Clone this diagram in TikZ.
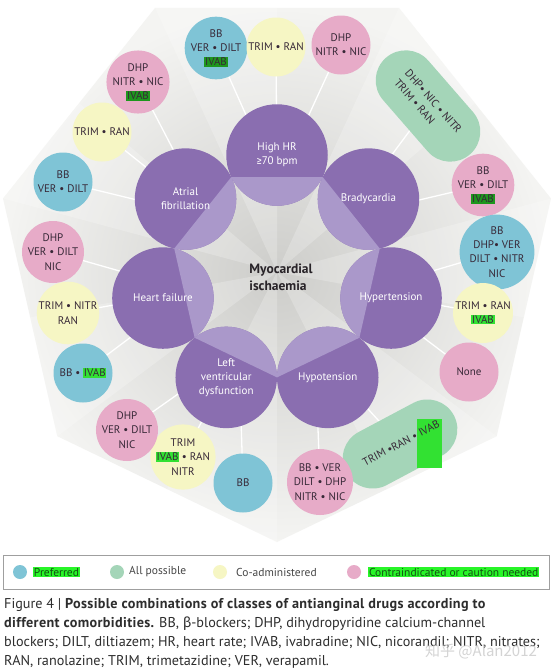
\documentclass[tikz,border=0pt]{standalone}
\usepackage{fontspec}
\setmainfont{PT Sans}
\newfontfamily\altf{Fira Sans}
\newfontfamily\capb[LetterSpace=2.5]{PT Sans}
\newfontfamily\cjk{Noto Sans CJK SC}
\usetikzlibrary{calc}
\pgfdeclarelayer{bg}
\pgfsetlayers{bg,main}
\definecolor{purpleC}{RGB}{138,110,176}
\definecolor{lightP}{RGB}{170,152,202}
\definecolor{blueC}{RGB}{127,196,214}
\definecolor{yellowC}{RGB}{246,246,196}
\definecolor{pinkC}{RGB}{231,171,200}
\definecolor{greenC}{RGB}{164,213,184}
\definecolor{satT}{RGB}{55,40,55}
\definecolor{ivD}{RGB}{30,150,30}
\definecolor{ivL}{RGB}{50,225,50}
\definecolor{hlG}{RGB}{40,245,40}
\definecolor{hlT}{RGB}{20,80,20}
\definecolor{bgIn}{RGB}{205,205,202}
\definecolor{bgOut}{RGB}{244,244,242}
\definecolor{legT}{RGB}{70,70,70}
\definecolor{capT}{RGB}{45,45,45}
\definecolor{miT}{RGB}{40,35,40}
\newcommand\ivabD{{\setlength{\fboxsep}{0.6pt}\colorbox{ivD}{IVAB}}}
\newcommand\ivabL{{\setlength{\fboxsep}{0.6pt}\colorbox{ivL}{IVAB}}}
\newcommand\hlgreen[1]{{\setlength{\fboxsep}{0.8pt}\colorbox{hlG}{\textcolor{hlT}{#1}}}}
\begin{document}
\begin{tikzpicture}[x=1pt,y=-1pt,
 pcirc/.style={circle, fill=purpleC, minimum size=101.5, inner sep=0},
 plab/.style={align=center, text=white, inner sep=0, font=\fontsize{11}{14}\selectfont},
 sat/.style={circle, minimum size=59, inner sep=0, align=center, text=satT, font=\fontsize{11}{14.3}\selectfont},
 satB/.style={sat, fill=blueC}, satY/.style={sat, fill=yellowC}, satP/.style={sat, fill=pinkC},
 pill/.style={rectangle, rounded corners=30, fill=greenC, minimum height=60, inner sep=0},
 pilltext/.style={align=left, inner sep=0, text=satT, font=\fontsize{11}{14.5}\selectfont},
 conn/.style={white, line width=1.3},
 legc/.style={circle, minimum size=14, inner sep=0},
 legt/.style={anchor=west, inner sep=0, text=legT, font=\fontsize{11.5}{13}\selectfont}]
\useasboundingbox (0,0) rectangle (554,672);
\coordinate (O) at (277,272);
\coordinate (H) at (277,261);
% purple ring
\foreach \n/\a in {hr/270, brady/321.4286, htn/12.8571, hypo/64.2857, lvd/115.7143, hf/167.1429, af/218.5714}
  \node[pcirc] (\n) at ($(O)+(\a:117)$) {};
\begin{scope}
 \clip ($(O)+(295.7143:105.4)$) -- ($(O)+(347.1429:105.4)$) -- ($(O)+(38.5714:105.4)$) -- ($(O)+(90:105.4)$) -- ($(O)+(141.4286:105.4)$) -- ($(O)+(192.8571:105.4)$) -- ($(O)+(244.2857:105.4)$) -- cycle;
 \foreach \n in {hr,brady,htn,hypo,lvd,hf,af} \fill[lightP] (\n) circle (50.76);
\end{scope}
\node[plab] (hrL) at (hr) {High HR\\{\altf\fontsize{10.5}{14}\selectfont ≥}70 bpm};
\node[plab] (bradyL) at (brady) {Bradycardia};
\node[plab] (htnL) at (htn) {Hypertension};
\node[plab] (hypoL) at (hypo) {Hypotension};
\node[plab] (lvdL) at (lvd) {Left\\ventricular\\dysfunction};
\node[plab] (hfL) at (hf) {Heart failure};
\node[plab] (afL) at (af) {Atrial\\fibrillation};
\node[align=left, inner sep=0, text=miT, font=\bfseries\fontsize{13.5}{17}\selectfont] (mi) at (281,277) {Myocardial\\ischaemia};
% satellites
\node[satP] (af1) at (138,82) {DHP\\NITR • NIC\\\ivabD};
\node[satY] (af2) at (102,132) {TRIM • RAN};
\node[satB] (af3) at (63,182) {BB\\VER • DILT};
\node[satB] (hr1) at (216,48) {BB\\VER • DILT\\\ivabD};
\node[satY] (hr2) at (276,47) {TRIM • RAN};
\node[satP] (hr3) at (341,45) {DHP\\NITR • NIC};
\node[pill, minimum width=128, rotate=-49] (br1) at (428,106) {};
\node[pilltext, rotate=-49] (br1t) at (br1) {DHP• NIC • NITR\\TRIM • RAN};
\node[satP] (br2) at (483,185) {BB\\VER • DILT\\\ivabD};
\node[satB] (ht1) at (497,252) {BB\\DHP• VER\\DILT • NITR\\NIC};
\node[satY] (ht2) at (483,313) {TRIM • RAN\\\ivabL};
\node[satP] (ht3) at (469,372) {None};
\node[pill, minimum width=122, rotate=28] (hy1) at (400,444) {};
\fill[ivL] (417,419) rectangle (442,468);
\node[pilltext, rotate=28] (hy1t) at (401,443) {TRIM •RAN • IVAB};
\node[satP, minimum size=66] (hy2) at (320,482) {BB • VER\\DILT • DHP\\NITR • NIC};
\node[satB] (lv1) at (243,483) {BB};
\node[satY] (lv2) at (183,457) {TRIM\\\ivabL{} • RAN\\NITR};
\node[satP] (lv3) at (127,430) {DHP\\VER • DILT\\NIC};
\node[satB] (hf1) at (83,373) {BB • \ivabL};
\node[satY] (hf2) at (68,313) {TRIM • NITR\\RAN};
\node[satP] (hf3) at (53,252) {DHP\\VER • DILT\\NIC};
% legend
\node[draw=gray!75, line width=0.8, minimum width=546, minimum height=34, inner sep=0] (leg) at (276,572) {};
\node[legc, fill=blueC] (lc1) at (20,572) {};
\node[legc, fill=greenC] (lc2) at (117,572) {};
\node[legc, fill=yellowC] (lc3) at (220,572) {};
\node[legc, fill=pinkC] (lc4) at (354,572) {};
\node[legt] (lt1) at (33,572) {\hlgreen{Preferred}};
\node[legt] (lt2) at (129,572) {All possible};
\node[legt] (lt3) at (236,572) {Co-administered};
\node[legt] (lt4) at (368,572) {\hlgreen{Contraindicated or caution needed}};
% caption
\node[anchor=north west, align=left, inner sep=0, text=capT, font=\fontsize{14.2}{19.2}\selectfont] (cap) at (4,598) {Figure 4 | {\capb\bfseries Possible combinations of classes of antianginal drugs according to}\\
{\capb\bfseries different comorbidities.} BB, {\altf β}-blockers; DHP, dihydropyridine calcium-channel\\
blockers; DILT, diltiazem; HR, heart rate; IVAB, ivabradine; NIC, nicorandil; NITR, nitrates;\\
RAN, ranolazine; TRIM, trimetazidine; VER, verapamil.};
\node[inner sep=0, text=gray!45, opacity=0.75, font=\cjk\fontsize{15}{18}\selectfont] (wm) at (481,651) {知乎 @Alan2012};
% background
\begin{pgfonlayer}{bg}
 \fill[white] (0,0) rectangle (554,672);
 \foreach \k in {0,...,7} \coordinate (V\k) at ($(H)+({90+\k*51.4286}:281)$);
 \shade[inner color=bgIn, outer color=bgOut] (V0) -- (V1) -- (V2) -- (V3) -- (V4) -- (V5) -- (V6) -- cycle;
 \foreach \k [evaluate=\k as \j using int(\k+1)] in {0,...,6}
   \fill[white, opacity=0.22] (O) -- (V\k) -- ($(V\k)!0.5!(V\j)$) -- cycle;
 \foreach \p/\s in {af/af1, af/af2, af/af3, hr/hr1, hr/hr2, hr/hr3, brady/br1, brady/br2, htn/ht1, htn/ht2, htn/ht3, hypo/hy1, hypo/hy2, lvd/lv1, lvd/lv2, lvd/lv3, hf/hf1, hf/hf2, hf/hf3}
   \draw[conn] ($(\p.center)!0.25!(O)$) -- (\s.center);
\end{pgfonlayer}
\end{tikzpicture}
\end{document}
